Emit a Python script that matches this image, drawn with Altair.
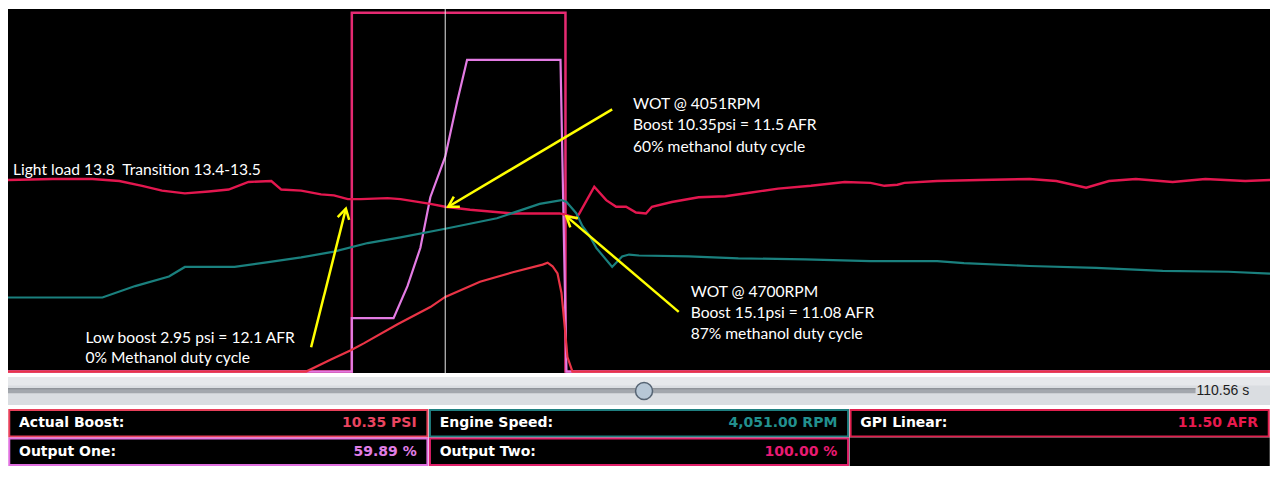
import math
import altair as alt
import pandas as pd

# ---------------- data (time in s within the visible window) ----------------
afr_t = [0, 2.25, 4.25, 5.6, 6.75, 7.75, 8.9, 10.1, 11.1, 12.1, 13.25, 13.75, 14.75, 15.75, 16.4,
         17.1, 17.75, 19.1, 19.75, 21.25, 22.0, 23.25, 25.4, 27.75, 28.0, 28.6, 28.75, 29.5, 30.1,
         30.6, 31.1, 31.6, 32.1, 32.4, 33.4, 34.75, 36.1, 37.4, 38.75, 40.4, 42.1, 43.4, 44.1,
         44.75, 45.1, 46.75, 48.9, 51.4, 52.75, 54.25, 55.4, 56.75, 58.6, 60.25, 62.25, 63.5]
afr_v = [13.80, 13.88, 13.88, 13.71, 13.30, 12.89, 12.65, 12.81, 12.98, 13.63, 13.71, 12.98, 12.89,
         12.57, 12.48, 12.16, 12.16, 12.24, 12.16, 11.75, 11.50, 11.25, 10.93, 10.93, 10.84, 10.52,
         10.93, 13.22, 12.07, 11.50, 11.50, 11.01, 10.93, 11.50, 11.91, 12.32, 12.40, 12.73, 13.06,
         13.30, 13.63, 13.55, 13.30, 13.39, 13.55, 13.71, 13.80, 13.88, 13.71, 13.14, 13.71, 13.88,
         13.63, 13.88, 13.71, 13.80]

rpm_t = [0, 4.75, 6.4, 8.1, 8.9, 11.4, 13.1, 14.75, 16.4, 18.1, 19.75, 22.0, 24.6, 26.75, 27.85,
         28.1, 28.4, 28.6, 28.9, 29.25, 29.6, 30.4, 30.9, 31.25, 31.75, 34.25, 36.75, 40.1, 43.4,
         46.75, 48.1, 51.4, 54.75, 58.1, 61.4, 63.5]
rpm_v = [2494, 2494, 2753, 2969, 3186, 3186, 3294, 3402, 3532, 3727, 3856, 4051, 4289, 4613, 4700,
         4657, 4505, 4397, 4116, 3900, 3618, 3186, 3424, 3467, 3445, 3424, 3380, 3359, 3316, 3316,
         3272, 3207, 3164, 3099, 3077, 3034]

boost_t = [0, 15.0, 16.25, 17.25, 17.9, 19.6, 21.25, 22.0, 23.75, 25.4, 26.9, 27.15, 27.4, 27.65,
           27.85, 28.0, 28.15, 28.4, 63.5]
boost_v = [0, 0, 1.66, 2.95, 3.91, 6.56, 8.94, 10.35, 12.45, 13.77, 14.83, 15.1, 14.6, 13.6, 10.9,
           6.6, 2.0, 0, 0]

out1_t = [0, 17.3, 17.3, 19.4, 20.1, 20.75, 21.25, 22.0, 22.6, 23.1, 27.8, 28.1, 63.5]
out1_v = [0, 0, 14.9, 14.9, 23.8, 34.5, 48.6, 59.9, 75.2, 86.9, 86.9, 0, 0]

out2_t = [0, 17.3, 17.3, 28.05, 28.05, 63.5]
out2_v = [0, 0, 100, 100, 0, 0]

cursor_t = [22.0]

# annotation texts (t, vertical position in % of plot height)
note_text = ["Light load 13.8\u00a0 Transition 13.4-13.5",
             "WOT @ 4051RPM", "Boost 10.35psi = 11.5 AFR", "60% methanol duty cycle",
             "WOT @ 4700RPM", "Boost 15.1psi = 11.08 AFR", "87% methanol duty cycle",
             "Low boost 2.95 psi = 12.1 AFR", "0% Methanol duty cycle"]
note_t = [0.25, 31.45, 31.45, 31.45, 34.35, 34.35, 34.35, 3.9, 3.9]
note_y = [55.9, 74.0, 68.0, 62.2, 22.3, 16.4, 10.8, 9.7, 4.1]

arrow_t1 = [15.25, 30.4, 33.75]
arrow_y1 = [7.09, 72.44, 16.80]
arrow_t2 = [17.0, 22.15, 28.1]
arrow_y2 = [45.14, 45.67, 43.04]

panel_label = ["Actual Boost:", "Engine Speed:", "GPI Linear:", "Output One:", "Output Two:", ""]
panel_value = ["10.35 PSI", "4,051.00 RPM", "11.50 AFR", "59.89 %", "100.00 %", ""]
panel_col = [0, 1, 2, 0, 1, 2]
panel_row = [0, 0, 0, 1, 1, 1]
panel_text_color = ["#ea4560", "#22908e", "#e81a4e", "#e07ee6", "#e81a72", "#000000"]
panel_border = ["#e8405a", "#1f7f80", "#e0204e", "#e070e0", "#e0206a", "#000000"]

slider_label = ["110.56 s"]
slider_pos = [0.504]
slider_track_end = 0.941

# ---------------- layout ----------------
W, H = 1262, 364
T_DOM = [0, 63.5]

xs = alt.X("t:Q", scale=alt.Scale(domain=T_DOM, nice=False, zero=False), axis=None)


def series(t, v, color, domain, sw):
    df = pd.DataFrame({"t": t, "v": v, "i": list(range(len(t)))})
    return alt.Chart(df).mark_line(color=color, strokeWidth=sw, clip=True).encode(
        x=xs,
        y=alt.Y("v:Q", scale=alt.Scale(domain=domain, nice=False, zero=False), axis=None),
        order="i:Q",
    )


bg = alt.Chart(pd.DataFrame({"a": [0]})).mark_rect(color="#000000").encode(
    x=alt.value(0), x2=alt.value(W), y=alt.value(0), y2=alt.value(H))

l_out2 = series(out2_t, out2_v, "#e62a72", [-0.4, 101.07], 2.5)
l_out1 = series(out1_t, out1_v, "#e37be3", [-0.4, 101.07], 2.2)
l_boost = series(boost_t, boost_v, "#ea3446", [-0.2, 50.26], 2.2)
l_rpm = series(rpm_t, rpm_v, "#1a807e", [785, 9026], 2.2)
l_afr = series(afr_t, afr_v, "#e3174f", [-2.76, 28.47], 2.4)

cursor = alt.Chart(pd.DataFrame({"t": cursor_t})).mark_rule(color="#e8e8e8", strokeWidth=1).encode(x=xs)

ys_note = alt.Scale(domain=[0, 100], nice=False, zero=False)
notes = alt.Chart(pd.DataFrame({"t": note_t, "p": note_y, "s": note_text})).mark_text(
    align="left", baseline="middle", font="Lato", fontSize=15.6, color="#ffffff"
).encode(x=xs, y=alt.Y("p:Q", scale=ys_note, axis=None), text="s:N")

# arrow head angle in screen space
ang = []
for a, b, c, d in zip(arrow_t1, arrow_y1, arrow_t2, arrow_y2):
    dx = (c - a) / (T_DOM[1] - T_DOM[0]) * W
    dy = (d - b) / 100 * H
    ang.append(math.degrees(math.atan2(dx, dy)) % 360)

arr_df = pd.DataFrame({"t": arrow_t1, "p": arrow_y1, "t2": arrow_t2, "p2": arrow_y2, "ang": ang})
arr_lines = alt.Chart(arr_df).mark_rule(color="#ffff00", strokeWidth=2.5).encode(
    x=xs, y=alt.Y("p:Q", scale=ys_note, axis=None), x2="t2:Q", y2="p2:Q")
arr_heads = alt.Chart(arr_df).mark_point(
    shape="M -0.5 0.85 L 0 0 L 0.5 0.85", filled=False, color="#ffff00", strokeWidth=2.5,
    size=560, opacity=1,
).encode(
    x=alt.X("t2:Q", scale=alt.Scale(domain=T_DOM, nice=False, zero=False), axis=None),
    y=alt.Y("p2:Q", scale=ys_note, axis=None),
    angle=alt.Angle("ang:Q", scale=None),
)

plot = alt.layer(bg, l_out2, l_out1, l_boost, l_afr, l_rpm, cursor, notes, arr_lines, arr_heads
                 ).resolve_scale(y="independent").properties(width=W, height=H)

# ---------------- slider ----------------
SH = 28
sx = alt.Scale(domain=[0, 1], nice=False, zero=False)
sy = alt.Scale(domain=[0, 1], nice=False, zero=False)
s_bg = alt.Chart(pd.DataFrame({"a": [0], "b": [1]})).mark_rect(color="#dadde1").encode(
    x=alt.X("a:Q", scale=sx, axis=None), x2="b:Q",
    y=alt.Y("a:Q", scale=sy, axis=None), y2="b:Q")
s_hi = alt.Chart(pd.DataFrame({"a": [0], "b": [1], "y0": [0.7], "y1": [1.0]})).mark_rect(
    color="#e6e8eb").encode(x=alt.X("a:Q", scale=sx, axis=None), x2="b:Q",
                             y=alt.Y("y0:Q", scale=sy, axis=None), y2="y1:Q")
s_track = alt.Chart(pd.DataFrame({"a": [0], "b": [slider_track_end], "y0": [0.42], "y1": [0.6]})).mark_rect(
    color="#a3a7ad").encode(x=alt.X("a:Q", scale=sx, axis=None), x2="b:Q",
                             y=alt.Y("y0:Q", scale=sy, axis=None), y2="y1:Q")
s_track2 = alt.Chart(pd.DataFrame({"a": [0], "b": [slider_track_end], "y0": [0.56], "y1": [0.6]})).mark_rect(
    color="#84888e").encode(x=alt.X("a:Q", scale=sx, axis=None), x2="b:Q",
                             y=alt.Y("y0:Q", scale=sy, axis=None), y2="y1:Q")
s_thumb = alt.Chart(pd.DataFrame({"x": slider_pos, "y": [0.5]})).mark_point(
    shape="circle", filled=True, size=290, fill="#b7c7d6", stroke="#566473", strokeWidth=1.5, opacity=1
).encode(x=alt.X("x:Q", scale=sx, axis=None), y=alt.Y("y:Q", scale=sy, axis=None))
s_text = alt.Chart(pd.DataFrame({"x": [slider_track_end], "y": [0.5], "s": slider_label})).mark_text(
    align="left", baseline="middle", font="Liberation Sans", fontSize=14, color="#1e1e1e", dx=1
).encode(x=alt.X("x:Q", scale=sx, axis=None), y=alt.Y("y:Q", scale=sy, axis=None), text="s:N")
slider = alt.layer(s_bg, s_hi, s_track, s_track2, s_thumb, s_text).properties(width=W, height=SH)

# ---------------- readout panel ----------------
PH = 57
pdf = pd.DataFrame({"label": panel_label, "value": panel_value, "col": panel_col, "row": panel_row,
                    "tc": panel_text_color, "bc": panel_border})
px = alt.Scale(domain=[0, 3], nice=False, zero=False)
py = alt.Scale(domain=[0, 2], nice=False, zero=False, reverse=True)
base = alt.Chart(pdf).transform_calculate(
    x0="datum.col + 0.003", x1="datum.col + 0.997", xr="datum.col + 1",
    y0="datum.row + 0.035", y1="datum.row + 0.965", yc="datum.row + 0.5")
cells = base.mark_rect(fill="#000000", strokeWidth=2).encode(
    x=alt.X("x0:Q", scale=px, axis=None), x2="x1:Q",
    y=alt.Y("y0:Q", scale=py, axis=None), y2="y1:Q",
    stroke=alt.Stroke("bc:N", scale=None))
labels = base.mark_text(align="left", baseline="middle", font="DejaVu Sans", fontWeight="bold",
                        fontSize=14, color="#ffffff", dx=11).encode(
    x=alt.X("col:Q", scale=px, axis=None), y=alt.Y("yc:Q", scale=py, axis=None), text="label:N")
values = base.mark_text(align="right", baseline="middle", font="DejaVu Sans", fontWeight="bold",
                        fontSize=14, dx=-12).encode(
    x=alt.X("xr:Q", scale=px, axis=None), y=alt.Y("yc:Q", scale=py, axis=None), text="value:N",
    color=alt.Color("tc:N", scale=None))
panel = alt.layer(cells, labels, values).properties(width=W, height=PH)

chart = alt.vconcat(plot, slider, panel, spacing=3).resolve_scale(
    x="independent", y="independent").properties(padding=0, background="#ffffff").configure_view(stroke=None)

chart.save("out.html", embed_options={"renderer": "svg", "actions": False})
